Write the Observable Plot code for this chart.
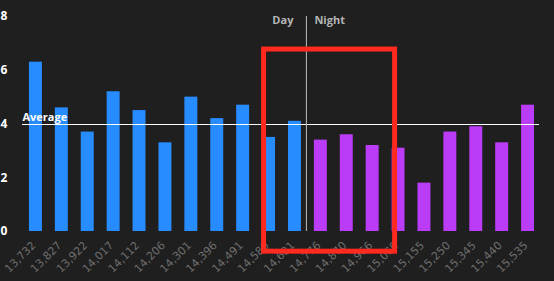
<!DOCTYPE html>
<html>
<head>
<meta charset="utf-8">
<script src="https://cdn.jsdelivr.net/npm/d3@7"></script>
<script src="https://cdn.jsdelivr.net/npm/@observablehq/plot@0.6"></script>
<style>
  html, body { margin: 0; padding: 0; background: #1f1f1f; }
  #chart svg { display: block; }
</style>
</head>
<body>
<div id="chart"></div>
<script>
const categories = ["13,732","13,827","13,922","14,017","14,112","14,206","14,301","14,396","14,491","14,586","14,681","14,776","14,870","14,966","15,060","15,155","15,250","15,345","15,440","15,535"];
const values = [6.3,4.6,3.7,5.2,4.5,3.3,5.0,4.2,4.7,3.5,4.1,3.4,3.6,3.2,3.1,1.8,3.7,3.9,3.3,4.7];
const periods = ["Day","Day","Day","Day","Day","Day","Day","Day","Day","Day","Day","Night","Night","Night","Night","Night","Night","Night","Night","Night"];
const yTicks = [0, 2, 4, 6, 8];
const averageValue = 4;
const highlightStart = "14,586";
const highlightEnd = "15,060";
const highlightLow = -0.75;
const highlightHigh = 6.77;

const rows = categories.map((c, i) => ({cat: c, value: values[i], period: periods[i]}));
const lastDay = categories[periods.lastIndexOf("Day")];
const firstNight = categories[periods.indexOf("Night")];

function annotations(index, scales, vals, dims) {
  const x = scales.x, y = scales.y;
  const bw = typeof x.bandwidth === "function" ? x.bandwidth() : x.bandwidth;
  const g = d3.create("svg:g");
  const divX = (x(lastDay) + bw + x(firstNight)) / 2 - 1;
  g.append("line")
    .attr("x1", divX).attr("x2", divX)
    .attr("y1", y(8)).attr("y2", y(0))
    .attr("stroke", "#bdbdbd").attr("stroke-width", 1);
  g.append("text").attr("x", divX - 13).attr("y", y(8) + 5)
    .attr("text-anchor", "end").attr("dominant-baseline", "middle")
    .attr("fill", "#b4b4b4").attr("font-weight", "bold")
    .attr("font-family", "Open Sans").attr("font-size", 11).text("Day");
  g.append("text").attr("x", divX + 8).attr("y", y(8) + 5)
    .attr("text-anchor", "start").attr("dominant-baseline", "middle")
    .attr("fill", "#b4b4b4").attr("font-weight", "bold")
    .attr("font-family", "Open Sans").attr("font-size", 11).text("Night");
  const rx1 = x(highlightStart) + 1.5;
  const rx2 = x(highlightEnd) + 3;
  g.append("rect")
    .attr("x", rx1).attr("y", y(highlightHigh))
    .attr("width", rx2 - rx1).attr("height", y(highlightLow) - y(highlightHigh))
    .attr("fill", "none").attr("stroke", "#ff2a1f").attr("stroke-width", 5);
  return g.node();
}

const chart = Plot.plot({
  width: 554,
  height: 281,
  marginLeft: 16,
  marginRight: 7,
  marginTop: 16,
  marginBottom: 50,
  style: {background: "#1f1f1f", overflow: "visible"},
  x: {domain: categories, padding: 0.5, round: false, label: null, axis: null},
  y: {domain: [0, 8], label: null, axis: null},
  color: {domain: ["Day", "Night"], range: ["#278cff", "#ba3cf6"]},
  marks: [
    Plot.axisY(yTicks, {anchor: "left", tickSize: 0, tickPadding: 8, label: null,
      fill: "#ffffff", fontWeight: "bold", fontSize: 12, fontFamily: "Open Sans", textAnchor: "start", dx: -8}),
    Plot.axisX({anchor: "bottom", tickSize: 0, tickPadding: 12, tickRotate: -45, label: null,
      fill: "#6e6e6e", fontSize: 11, fontFamily: "DejaVu Sans", dx: -2}),
    Plot.barY(rows, {x: "cat", y: "value", fill: "period"}),
    Plot.ruleY([averageValue], {stroke: "#ffffff", strokeWidth: 1, insetLeft: 6, insetRight: 8, dy: 0.5}),
    Plot.text([averageValue], {y: d => d, frameAnchor: "left", dx: 6, dy: -7, text: () => "Average",
      fill: "#ffffff", fontWeight: "bold", fontSize: 11, fontFamily: "Open Sans", textAnchor: "start"}),
    annotations
  ]
});
document.getElementById("chart").appendChild(chart);
</script>
</body>
</html>
